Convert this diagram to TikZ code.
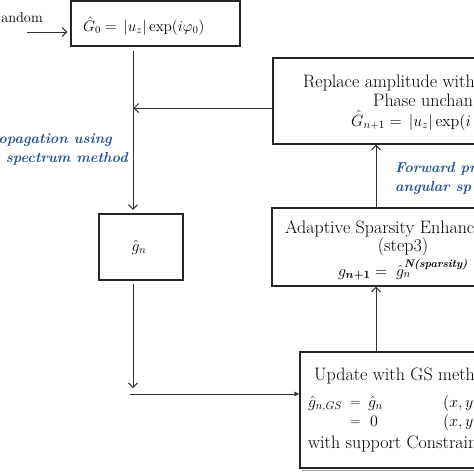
\RequirePackage{fix-cm}
\documentclass[tikz,border=0pt]{standalone}
\usepackage{amsmath}
\usepackage{amssymb}
\usetikzlibrary{arrows.meta}
\definecolor{notecol}{RGB}{38,84,150}
\newcommand{\supsp}{\text{\fontsize{11}{13}\selectfont\bfseries\itshape N(sparsity)}}
\begin{document}
\begin{tikzpicture}[x=1pt,y=-1pt,
  box/.style={draw=black!85,line width=1.3pt,inner sep=0pt},
  conn/.style={draw=black!80,line width=1pt},
  arr/.style={conn,-{Straight Barb[length=4.5pt,width=9pt,line width=1pt]}},
  arrT/.style={conn,-{Triangle[length=5pt,width=4.5pt]}},
  small/.style={font=\fontsize{14.4}{18}\selectfont,inner sep=0pt},
  lbl/.style={font=\fontsize{18}{22}\selectfont,inner sep=0pt},
  eqn/.style={font=\fontsize{16}{20}\selectfont,inner sep=0pt},
  eqa/.style={font=\fontsize{15.3}{19}\selectfont,inner sep=0pt},
  eqs/.style={font=\fontsize{14}{17}\selectfont,inner sep=0pt},
  note/.style={font=\fontsize{14.4}{18}\selectfont\bfseries\itshape,text=notecol,inner sep=0pt}]
\useasboundingbox (0,0) rectangle (474,474);
\clip (0,0) rectangle (474,474);
\fill[white] (0,0) rectangle (474,474);
% boxes
\node[box,minimum width=169pt,minimum height=45pt] (g0) at (155.5,23.5) {};
\node[box,minimum width=84pt,minimum height=66pt] (gn) at (141,247) {};
\node[box,minimum width=267pt,minimum height=86pt] (rep) at (406.5,101) {};
\node[box,minimum width=262pt,minimum height=78pt] (ada) at (403,247) {};
\draw[black!35,line width=1.5pt] (302,470.5) -- (474,470.5);
\node[box,minimum width=260pt,minimum height=116pt] (upd) at (430,410) {};
% coordinates
\coordinate (rin) at (27,32);
\coordinate (x1) at (133,0);
\coordinate (x2) at (376,0);
\coordinate (y1) at (0,108);
\coordinate (d1) at (133,388);
\coordinate (h0) at (130,394);
% connectors
\draw[arr,shorten >=3pt] (rin) -- (rin -| g0.west);
\draw[arr,shorten <=4pt,shorten >=3.5pt] (g0.south -| x1) -- (gn.north -| x1);
\draw[arr,shorten >=0.5pt] (rep.west |- y1) -- (x1 |- y1);
\draw[arr,shorten <=3pt] (gn.south -| x1) -- (d1);
\draw[arrT] (h0) -- (h0 -| upd.west);
\draw[arr] (upd.north -| x2) -- (ada.south -| x2);
\draw[arr] (ada.north -| x2) -- (rep.south -| x2);
% texts
\node[small,anchor=base east] (t0) at (43,22) {andom};
\node[eqa,anchor=base west] (tg0) at (83,31) {$\hat{G}_0 = \,|u_z|\exp(i\varphi_0)$};
\node[eqn] (tgn) at (139,247) {$\hat{g}_n$};
\node[note,anchor=base east] (b1) at (112,143) {opagation using};
\node[note,anchor=base east] (b2) at (128,162) {spectrum method};
\node[lbl,anchor=base west] (r1) at (303,87) {Replace amplitude with};
\node[lbl,anchor=base west] (r2) at (373,106) {Phase unchan};
\node[eqn,anchor=base west] (r3) at (351,126) {$\hat{G}_{n+1} = \,|u_z|\exp(i$};
\node[note,anchor=base west] (f1) at (395,172) {Forward pr};
\node[note,anchor=base west] (f2) at (395,191) {angular sp};
\node[lbl,anchor=base west] (a1) at (285,233) {Adaptive Sparsity Enhanc};
\node[lbl,anchor=base] (a2) at (403,251) {(step3)};
\node[eqn,anchor=base west] (a3) at (338,276) {$g_{\boldsymbol{n+1}} = \;\hat{g}_n^{\supsp}$};
\node[lbl,anchor=base west] (u1) at (314,380) {Update with GS meth};
\node[eqn,anchor=base west] (u2) at (308,407) {$\hat{g}_{n,GS}$};
\node[eqs,anchor=base west] (u3) at (350,406) {$=$};
\node[eqn,anchor=base west] (u4) at (368,407) {$\hat{g}_n$};
\node[eqn,anchor=base west] (u5) at (443,407) {$(x,y$};
\node[eqs,anchor=base west] (u6) at (350,425) {$=$};
\node[eqn,anchor=base west] (u7) at (370,426) {$0$};
\node[eqn,anchor=base west] (u8) at (443,426) {$(x,y$};
\node[lbl,anchor=base west] (u9) at (308,448) {with support Constrain};
\end{tikzpicture}
\end{document}
